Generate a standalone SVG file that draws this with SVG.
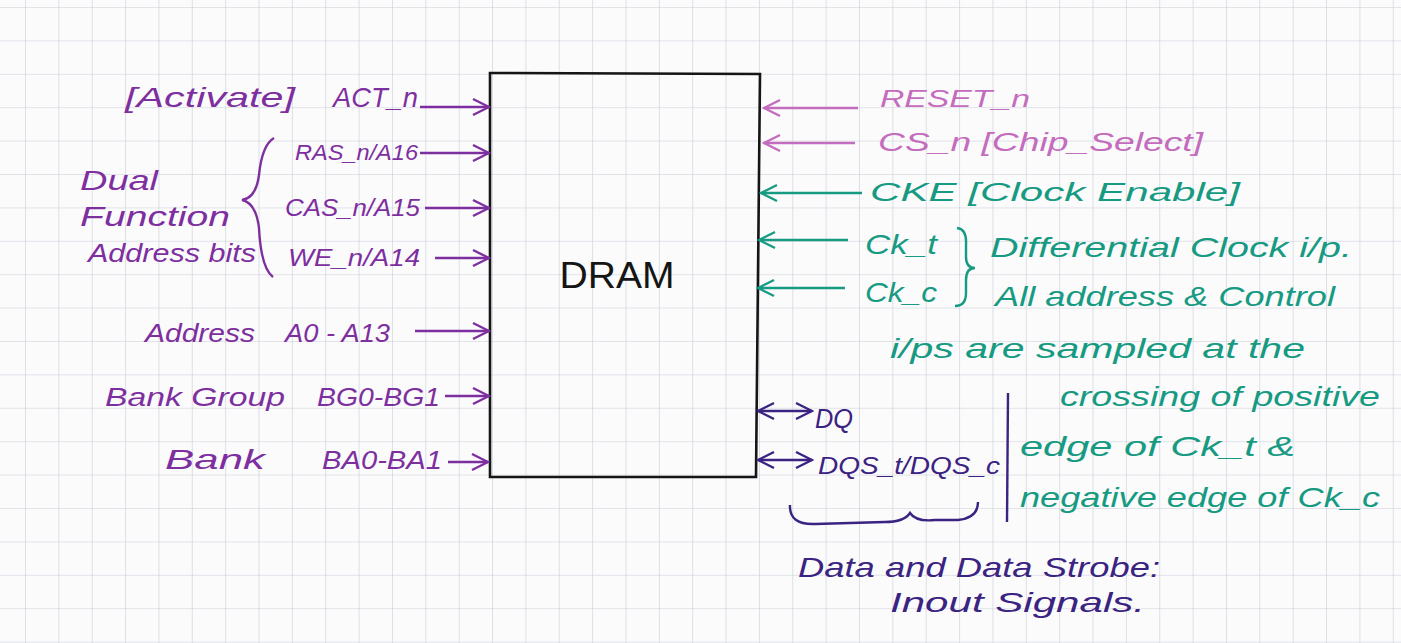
<svg xmlns="http://www.w3.org/2000/svg" width="1401" height="643" viewBox="0 0 1401 643">
<defs>
<pattern id="grid" patternUnits="userSpaceOnUse" x="25" y="7" width="33.36" height="33.4">
<path d="M0,0 H33.36 M0,0 V33.4" fill="none" stroke="#c9ccd6" stroke-width="1.2"/>
</pattern>
<marker id="aP" viewBox="0 0 20 20" refX="18" refY="10" markerWidth="20" markerHeight="20" markerUnits="userSpaceOnUse" orient="auto-start-reverse"><path d="M2,2 L18,10 L2,18" fill="none" stroke="#7e2f9f" stroke-width="2.4"/></marker>
<marker id="aK" viewBox="0 0 20 20" refX="18" refY="10" markerWidth="20" markerHeight="20" markerUnits="userSpaceOnUse" orient="auto-start-reverse"><path d="M2,2 L18,10 L2,18" fill="none" stroke="#c46cbd" stroke-width="2.4"/></marker>
<marker id="aT" viewBox="0 0 20 20" refX="18" refY="10" markerWidth="20" markerHeight="20" markerUnits="userSpaceOnUse" orient="auto-start-reverse"><path d="M2,2 L18,10 L2,18" fill="none" stroke="#179a82" stroke-width="2.4"/></marker>
<marker id="aN" viewBox="0 0 20 20" refX="18" refY="10" markerWidth="20" markerHeight="20" markerUnits="userSpaceOnUse" orient="auto-start-reverse"><path d="M2,2 L18,10 L2,18" fill="none" stroke="#3b2382" stroke-width="2.4"/></marker>
</defs>
<style>
text{font-family:"Liberation Sans","DejaVu Sans",sans-serif;font-style:italic;}
.p{fill:#7e2f9f;font-size:26px}
.k{fill:#c46cbd;font-size:26px}
.t{fill:#179a82;font-size:28px}
.n{fill:#3b2382;font-size:26px}
.lp{stroke:#7e2f9f;stroke-width:2.4;fill:none}
.lk{stroke:#c46cbd;stroke-width:2.4;fill:none}
.lt{stroke:#179a82;stroke-width:2.4;fill:none}
.ln{stroke:#3b2382;stroke-width:2.4;fill:none}
</style>
<rect width="1401" height="643" fill="#fbfbfc"/>
<rect width="1401" height="643" fill="url(#grid)"/>

<g id="dram">
<path d="M490,73 L760,74 L756,477 L490,477 Z" fill="none" stroke="#151515" stroke-width="2.6"/>
<text x="617" y="288" text-anchor="middle" style="font-style:normal;font-size:36px;fill:#151515" textLength="115" lengthAdjust="spacingAndGlyphs">DRAM</text>
</g>

<g id="left-labels">
<text class="p" x="125" y="107" textLength="170" lengthAdjust="spacingAndGlyphs" style="font-size:28px">[Activate]</text>
<text class="p" x="333" y="107" textLength="85" lengthAdjust="spacingAndGlyphs" style="font-size:28px">ACT_n</text>
<text class="p" x="295" y="160" textLength="123" lengthAdjust="spacingAndGlyphs" style="font-size:22px">RAS_n/A16</text>
<text class="p" x="285" y="216" textLength="135" lengthAdjust="spacingAndGlyphs" style="font-size:24px">CAS_n/A15</text>
<text class="p" x="288" y="266" textLength="132" lengthAdjust="spacingAndGlyphs" style="font-size:24px">WE_n/A14</text>
<text class="p" x="80" y="190" textLength="78" lengthAdjust="spacingAndGlyphs" style="font-size:28px">Dual</text>
<text class="p" x="80" y="226" textLength="150" lengthAdjust="spacingAndGlyphs" style="font-size:28px">Function</text>
<text class="p" x="88" y="262" textLength="168" lengthAdjust="spacingAndGlyphs">Address bits</text>
<text class="p" x="145" y="342" textLength="110" lengthAdjust="spacingAndGlyphs">Address</text>
<text class="p" x="285" y="342" textLength="105" lengthAdjust="spacingAndGlyphs">A0 - A13</text>
<text class="p" x="105" y="406" textLength="180" lengthAdjust="spacingAndGlyphs">Bank Group</text>
<text class="p" x="317" y="406" textLength="123" lengthAdjust="spacingAndGlyphs">BG0-BG1</text>
<text class="p" x="165" y="469" textLength="100" lengthAdjust="spacingAndGlyphs" style="font-size:28px">Bank</text>
<text class="p" x="322" y="469" textLength="120" lengthAdjust="spacingAndGlyphs">BA0-BA1</text>
<path class="lp" d="M274,138 Q262,145 259,175 Q256,198 242,200 Q256,203 259,228 Q261,268 273,277"/>
</g>

<g id="right-labels">
<text class="k" x="880" y="107" textLength="150" lengthAdjust="spacingAndGlyphs" style="font-size:24px">RESET_n</text>
<text class="k" x="878" y="151" textLength="325" lengthAdjust="spacingAndGlyphs">CS_n [Chip_Select]</text>
<text class="t" x="870" y="201" textLength="370" lengthAdjust="spacingAndGlyphs" style="font-size:26px">CKE  [Clock Enable]</text>
<text class="t" x="865" y="254" textLength="72" lengthAdjust="spacingAndGlyphs">Ck_t</text>
<text class="t" x="865" y="302" textLength="72" lengthAdjust="spacingAndGlyphs">Ck_c</text>
<path class="lt" d="M957,228 Q967,229 966,245 L966,257 Q966,268 975,268 Q966,268 966,280 L966,293 Q966,306 955,306"/>
<text class="t" x="990" y="257" textLength="362" lengthAdjust="spacingAndGlyphs">Differential Clock i/p.</text>
<text class="t" x="995" y="306" textLength="340" lengthAdjust="spacingAndGlyphs">All address &amp; Control</text>
<text class="t" x="890" y="358" textLength="415" lengthAdjust="spacingAndGlyphs">i/ps are sampled at the</text>
<text class="t" x="1060" y="406" textLength="320" lengthAdjust="spacingAndGlyphs">crossing of positive</text>
<text class="t" x="1020" y="456" textLength="275" lengthAdjust="spacingAndGlyphs">edge of Ck_t  &amp;</text>
<text class="t" x="1020" y="507" textLength="360" lengthAdjust="spacingAndGlyphs">negative edge of Ck_c</text>
</g>

<g id="data-labels">
<text class="n" x="815" y="428" textLength="38" lengthAdjust="spacingAndGlyphs" style="font-size:28px">DQ</text>
<text class="n" x="818" y="474" textLength="182" lengthAdjust="spacingAndGlyphs" style="font-size:24px">DQS_t/DQS_c</text>
<path class="ln" d="M1008,393 L1007,522"/>
<path class="ln" d="M790,505 Q789,525 815,524 L885,522 Q904,522 910,513 Q916,522 935,520 L958,520 Q978,518 978,502"/>
<text class="n" x="798" y="577" textLength="362" lengthAdjust="spacingAndGlyphs" style="font-size:28px">Data and Data Strobe:</text>
<text class="n" x="890" y="612" textLength="255" lengthAdjust="spacingAndGlyphs" style="font-size:28px">Inout Signals.</text>
</g>

<g id="connectors">
<line class="lp" x1="420" y1="107" x2="489" y2="107" marker-end="url(#aP)"/>
<line class="lp" x1="420" y1="153" x2="489" y2="153" marker-end="url(#aP)"/>
<line class="lp" x1="425" y1="208" x2="489" y2="208" marker-end="url(#aP)"/>
<line class="lp" x1="435" y1="258" x2="489" y2="258" marker-end="url(#aP)"/>
<line class="lp" x1="415" y1="331" x2="489" y2="331" marker-end="url(#aP)"/>
<line class="lp" x1="445" y1="396" x2="489" y2="396" marker-end="url(#aP)"/>
<line class="lp" x1="448" y1="462" x2="488" y2="462" marker-end="url(#aP)"/>
<line class="lk" x1="858" y1="108" x2="764" y2="108" marker-end="url(#aK)"/>
<line class="lk" x1="855" y1="143" x2="764" y2="143" marker-end="url(#aK)"/>
<line class="lt" x1="862" y1="193" x2="761" y2="193" marker-end="url(#aT)"/>
<line class="lt" x1="848" y1="240" x2="759" y2="240" marker-end="url(#aT)"/>
<line class="lt" x1="845" y1="288" x2="758" y2="288" marker-end="url(#aT)"/>
<line class="ln" x1="758" y1="411" x2="812" y2="411" marker-start="url(#aN)" marker-end="url(#aN)"/>
<line class="ln" x1="758" y1="460" x2="812" y2="460" marker-start="url(#aN)" marker-end="url(#aN)"/>
</g>
</svg>
